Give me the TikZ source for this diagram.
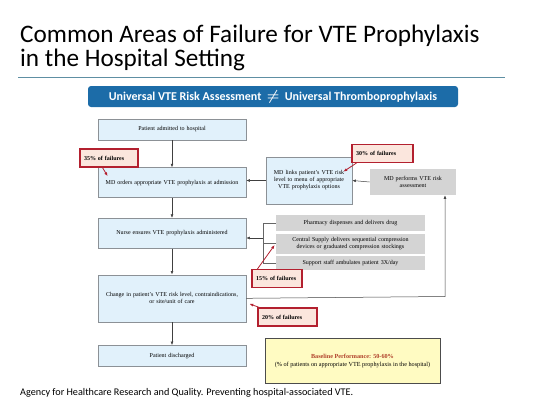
\documentclass[tikz,border=0pt]{standalone}
\usepackage{fontspec}
\setmainfont{Liberation Serif}
\newfontfamily\slidefont{Carlito}
\usepackage{xcolor}
\definecolor{cBlue}  {HTML}{E1F1FB}
\definecolor{cEdge}  {HTML}{8C9196}
\definecolor{cGray}  {HTML}{D4D4D4}
\definecolor{cRed}   {HTML}{B3202F}
\definecolor{cPink}  {HTML}{FBE6DD}
\definecolor{cYellow}{HTML}{FFFBC2}
\definecolor{cBanner}{HTML}{1C6CA8}
\definecolor{cRule}  {HTML}{5E8FA3}
\definecolor{cBrown} {HTML}{B0402A}
\usepackage{tikz}
\usetikzlibrary{arrows.meta, positioning}
\tikzset{
  blk/.style  = {rectangle, draw=cEdge, fill=cBlue, line width=0.6pt,
                 text width=#1, inner xsep=3pt, inner ysep=1pt,
                 align=center, font=\fontsize{6}{7}\selectfont},
  blk/.default = 142pt,
  gblk/.style = {blk=#1, draw=none, fill=cGray},
  fail/.style = {rectangle, draw=cRed, line width=1.1pt, fill=cPink,
                 text width=#1, inner xsep=4pt, inner ysep=0pt,
                 minimum height=18pt, align=left,
                 font=\bfseries\fontsize{6}{7}\selectfont},
  banner/.style = {rectangle, fill=cBanner, text=white, rounded corners=3pt,
                 minimum width=370pt, minimum height=21pt,
                 font=\slidefont\bfseries\fontsize{12}{13}\selectfont},
  slide/.style = {anchor=base west, inner sep=0pt, font=\slidefont\fontsize{#1}{#1}\selectfont},
  arr/.style  = {-{Latex[length=3.5pt,width=2.8pt]}, line width=0.5pt, draw=black!75},
  lnk/.style  = {line width=0.5pt, draw=black!60},
  rarr/.style = {-{Latex[length=4pt,width=3pt]}, line width=0.8pt, draw=cRed},
}

\begin{document}
\begin{tikzpicture}[x=1pt, y=-1pt, node distance=20pt]
  \useasboundingbox (0,0) rectangle (540,405);

  %% --- Title ---
  \node[slide=25.2] (title1) at (20,42) {Common Areas of Failure for VTE Prophylaxis};
  \node[slide=25.2] (title2) at (20,66) {in the Hospital Setting};
  \draw[cRule, line width=0.9pt] (18,77) -- (505,77);

  %% --- Banner ---
  \node[banner] (head) at (273,96.5)
        {Universal VTE Risk Assessment\ \ {\Large\boldmath$\neq$}\ \ Universal Thromboprophylaxis};

  %% --- Main column ---
  \node[blk, minimum height=21pt] (admit) at (172,129.5)
        {Patient admitted to hospital};
  \node[blk, minimum height=30pt, below=27pt of admit] (order)
        {MD orders appropriate VTE prophylaxis at admission};
  \node[blk, minimum height=30pt, below=20pt of order] (nurse)
        {Nurse ensures VTE prophylaxis administered};
  \node[blk, minimum height=47pt, below=26pt of nurse] (change)
        {Change in patient's VTE risk level, contraindications,\\or site/unit of care};
  \node[blk, minimum height=21pt, below=23pt of change] (disch)
        {Patient discharged};

  %% --- Risk assessment ---
  \node[blk=80pt, minimum height=47pt] (links) at (309,180.5)
        {MD links patient's VTE risk\\level to menu of appropriate\\VTE prophylaxis options};
  \node[gblk=80pt, minimum height=26pt] (perf) at (413,182)
        {MD performs VTE risk\\assessment};

  %% --- Delivery ---
  \node[gblk=143pt, minimum height=16pt] (pharm) at (350.5,223)
        {Pharmacy dispenses and delivers drug};
  \node[gblk=143pt, minimum height=20pt, below=2pt of pharm] (csup)
        {Central Supply delivers sequential compression\\devices or graduated compression stockings};
  \node[gblk=143pt, minimum height=14pt, below=2pt of csup] (supp)
        {Support staff ambulates patient 3X/day};

  %% --- Failure tags ---
  \node[fail=50pt] (f35) at (109,158)   {35\% of failures};
  \node[fail=53pt] (f30) at (382.5,153.5) {30\% of failures};
  \node[fail=42pt] (f15) at (277,278.5) {15\% of failures};
  \node[fail=51pt] (f20) at (287.5,317) {20\% of failures};

  %% --- Baseline ---
  \node[rectangle, draw=black!70, line width=0.7pt, fill=cYellow,
        minimum width=175pt, minimum height=45pt, align=center,
        font=\fontsize{6.2}{8}\selectfont] (base) at (352.5,360.5)
        {{\color{cBrown}\bfseries Baseline Performance: 50-60\%}\\
         (\% of patients on appropriate VTE prophylaxis in the hospital)};

  %% --- Footnote ---
  \node[slide=10.2] (cite) at (20,395)
        {Agency for Healthcare Research and Quality. Preventing hospital-associated VTE.};

  %% --- Arrows ---
  \draw[arr] (admit) -- (order);
  \draw[arr] (order) -- (nurse);
  \draw[arr] (nurse) -- (change);
  \draw[arr] (change) -- (disch);

  \draw[arr] (perf.west) -- (links.east);
  \draw[arr] (links.west) -- (links.west -| order.east);

  \coordinate (brk) at (263,238);
  \draw[lnk] (pharm.west) -| (brk |- supp.west) -- (supp.west);
  \draw[lnk] (csup.west) -- (brk |- csup.west);
  \draw[arr] (brk) -- (brk -| nurse.east);

  \coordinate (turn) at (445,296.5);
  \draw[arr] (change.east) -- (turn) -- (turn |- perf.south);

  \draw[rarr] ([xshift=23pt]f35.south west) -- ([shift={(10,9)}]order.north west);
  \draw[rarr] ([xshift=5pt]f30.south west)  -- ([shift={(-9,15)}]links.north east);
  \draw[rarr] ([xshift=6pt]f15.north west)  -- ([shift={(-1,-9)}]csup.south west);
  \draw[rarr] ([xshift=2pt]f20.north west)  -- ([shift={(3,5.5)}]change.east);

\end{tikzpicture}
\end{document}
